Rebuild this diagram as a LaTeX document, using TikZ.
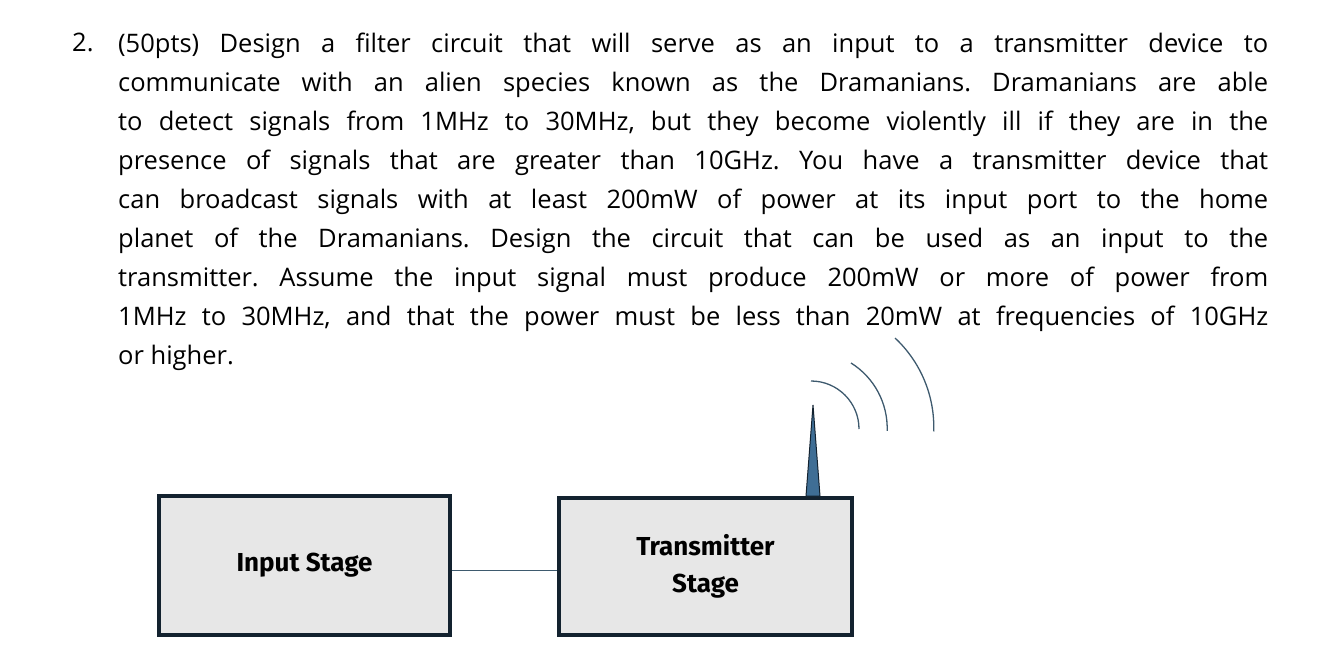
\documentclass[tikz,border=0pt]{standalone}
\usepackage{fontspec}
\setmainfont{Open Sans}
\newfontfamily\boxfont{Fira Sans}
\definecolor{navy}{HTML}{13222F}
\definecolor{boxfill}{HTML}{E7E7E7}
\definecolor{wave}{HTML}{3E5A6E}
\definecolor{ant}{HTML}{3F6E95}
\frenchspacing
\begin{document}
\begin{tikzpicture}[x=1pt,y=-1pt,
  stage/.style={draw=navy,line width=4pt,fill=boxfill,font=\boxfont\bfseries\fontsize{26}{37}\selectfont,align=center},
  wavearc/.style={draw=wave,line width=1.3pt}]
\useasboundingbox (0,0) rectangle (1336,662);
\node[anchor=north west,inner sep=0,font=\fontsize{25.5}{39}\selectfont] (num) at (72,33) {2.};
\node[anchor=north west,inner sep=0,text width=1150pt,align=justify,font=\fontsize{25.5}{39}\selectfont] (txt) at (118,33) {%
(50pts) Design a filter circuit that will serve as an input to a transmitter device to\linebreak
communicate with an alien species known as the Dramanians. Dramanians are able\linebreak
to detect signals from 1MHz to 30MHz, but they become violently ill if they are in the\linebreak
presence of signals that are greater than 10GHz. You have a transmitter device that\linebreak
can broadcast signals with at least 200mW of power at its input port to the home\linebreak
planet of the Dramanians. Design the circuit that can be used as an input to the\linebreak
transmitter. Assume the input signal must produce 200mW or more of power from\linebreak
1MHz to 30MHz, and that the power must be less than 20mW at frequencies of 10GHz\linebreak
or higher.};
\node[stage,minimum width=291pt,minimum height=139pt] (in) at (304.5,565.5) {Input Stage};
\node[stage,minimum width=293pt,minimum height=137pt] (tx) at (705.5,566.5) {Transmitter\\Stage};
\draw[wave,line width=0.8pt] (in.east) ++(0,5) coordinate (a) -- (a -| tx.west);
\coordinate (tip) at (813,405);
\draw[navy,fill=ant,line width=1pt] (tip) -- (820,496) -- (806,496) -- cycle;
\draw[wavearc] (811,381) arc[start angle=-90,end angle=0,radius=48];
\draw[wavearc] (851,363) arc[start angle=-58,end angle=2,radius=77];
\draw[wavearc] (895,338) arc[start angle=-47,end angle=2,radius=122];
\end{tikzpicture}
\end{document}
